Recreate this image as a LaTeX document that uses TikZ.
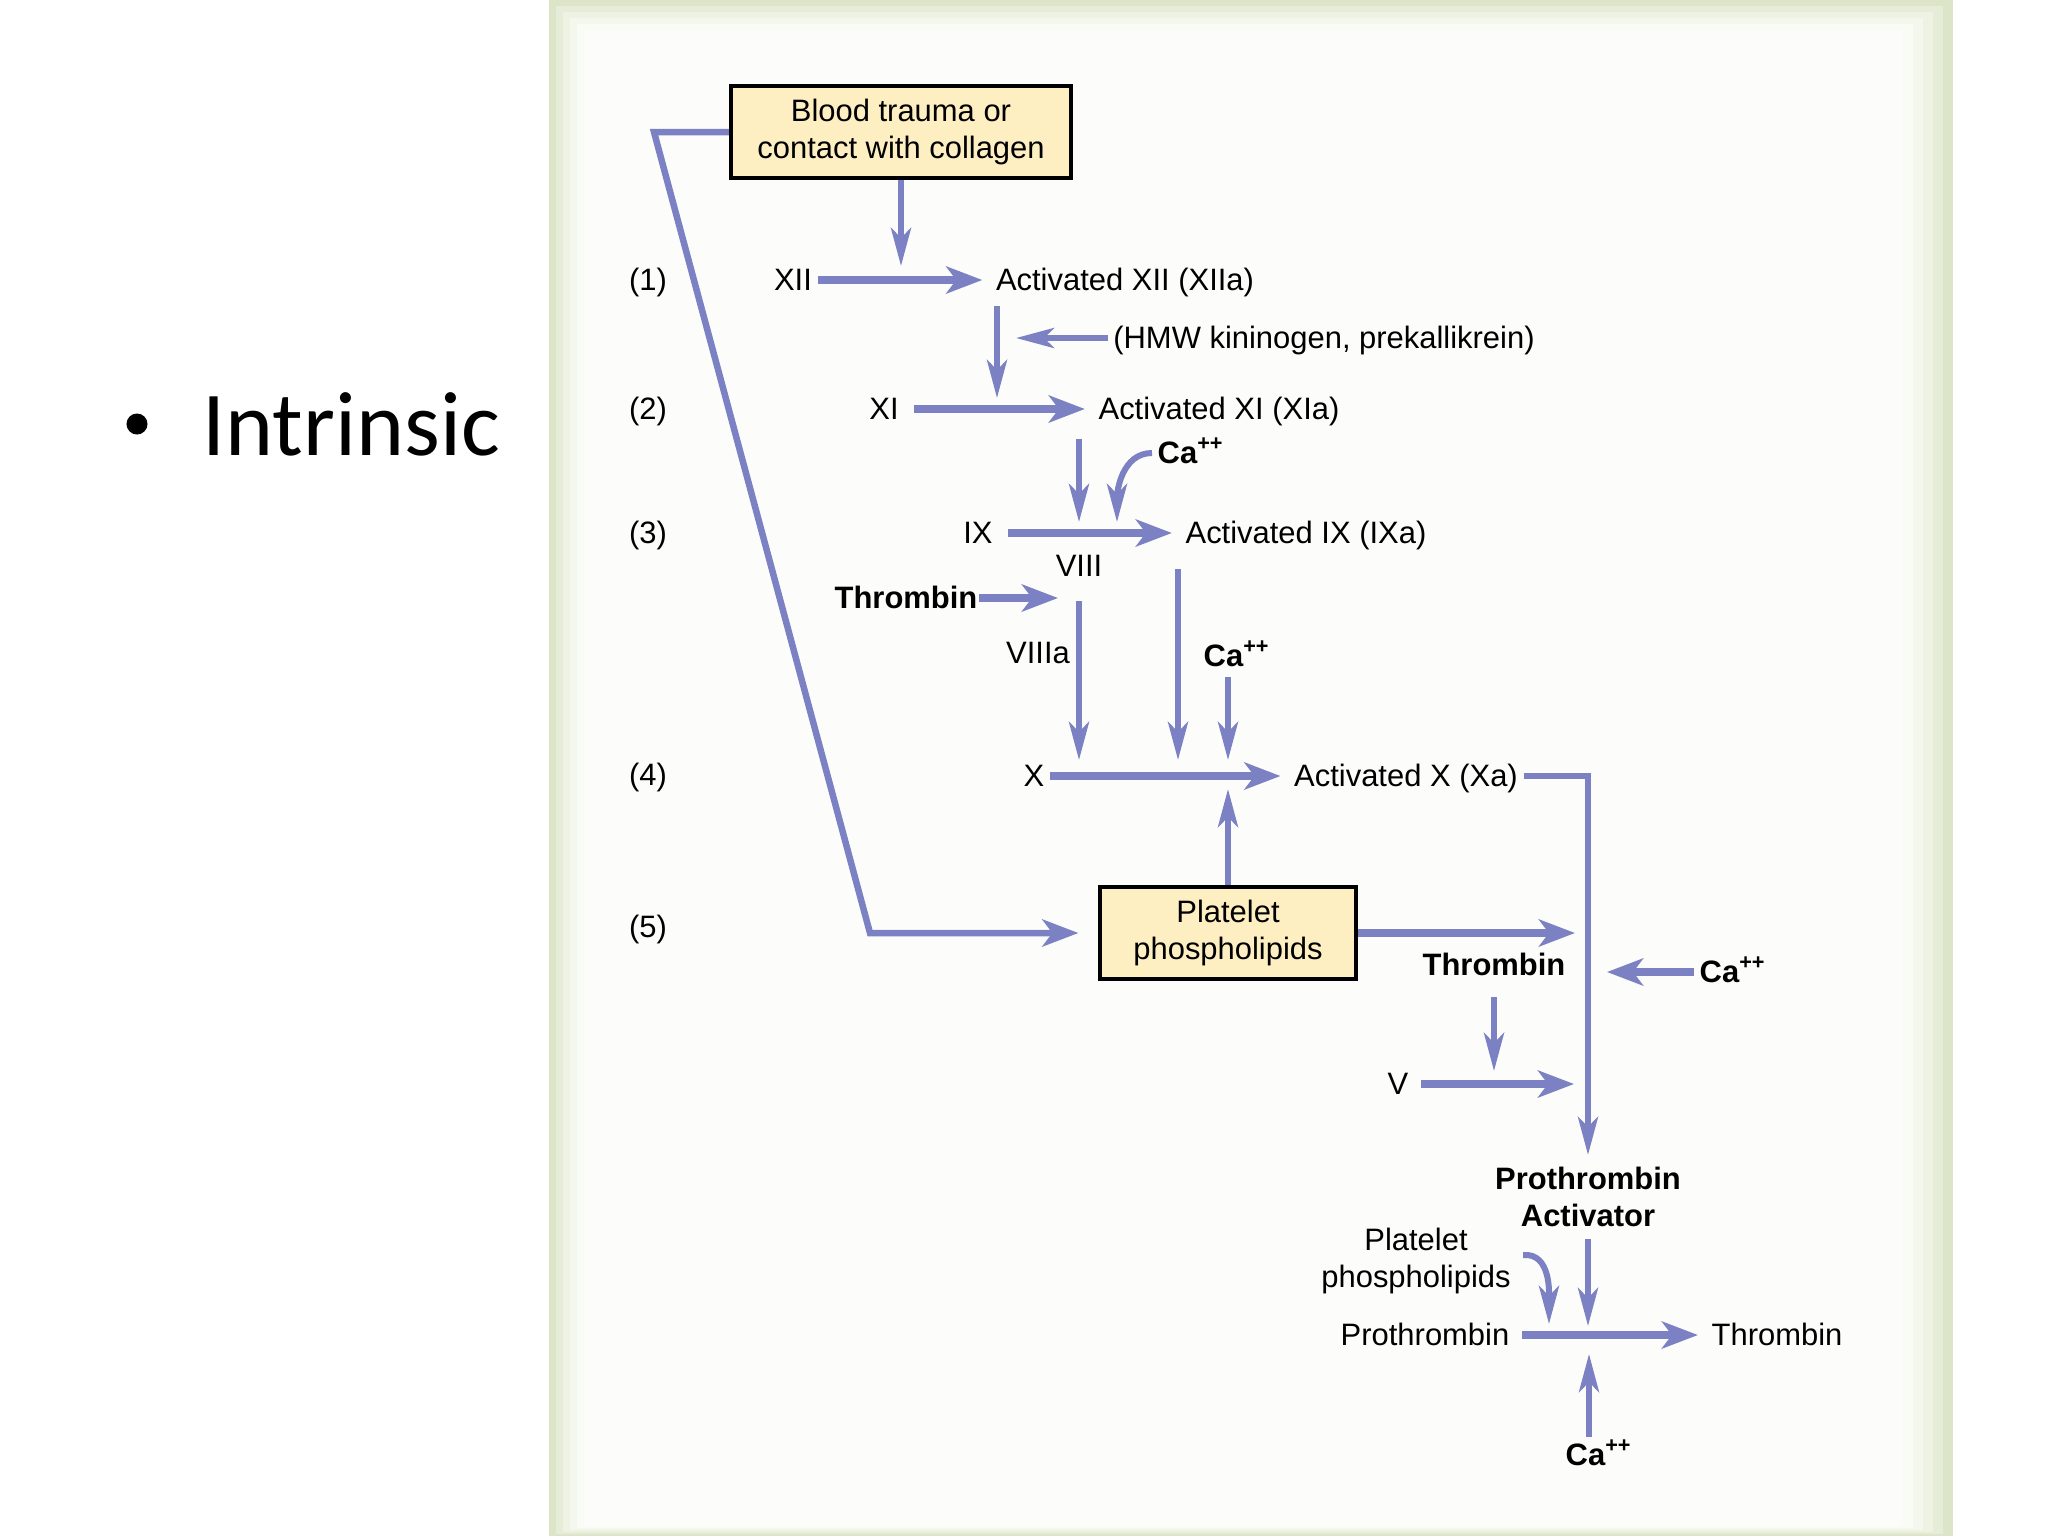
\documentclass[tikz,border=0pt]{standalone}
\usepackage{fontspec}
\setmainfont{Liberation Sans}
\newfontfamily\carlito{Carlito}
\usepackage{tikz}
\usetikzlibrary{arrows.meta, positioning, calc}
\definecolor{ArrowBlue}{RGB}{124,129,196}
\definecolor{BoxYellow}{RGB}{253,239,194}
\definecolor{PanelGreen}{RGB}{220,229,200}
\definecolor{PanelWhite}{RGB}{252,253,250}

\begin{document}
\begin{tikzpicture}[x=0.01cm, y=-0.01cm,
	font=\fontsize{8.8}{10.4}\selectfont,
	caja/.style={rectangle, draw=black, line width=0.04cm, fill=BoxYellow,
		align=center, inner sep=2pt},
	lbl/.style={inner sep=0.05cm, text height=0.24cm, text depth=0.03cm},
	neg/.style={lbl, font=\fontsize{8.8}{10.4}\selectfont\bfseries},
	fl/.style={-{Stealth[length=0.36cm, width=0.27cm, inset=0.1cm]},
		line width=0.085cm, ArrowBlue, shorten >=0.08cm},
	fd/.style={-{Stealth[length=0.38cm, width=0.2cm, inset=0.1cm]},
		line width=0.06cm, ArrowBlue}]

	\useasboundingbox (0,0) rectangle (2048,1536);
	\fill[white] (0,0) rectangle (2048,1536);
	% panel with faded green rim
	\foreach \i/\p in {0/100, 1/70, 2/45, 3/25, 4/10, 5/0}
		\fill[PanelGreen!\p!PanelWhite] (549+7*\i, 6*\i) rectangle (1953-10*\i, 1536-2*\i);

	% slide bullet
	\node[circle, fill=black, inner sep=0pt, minimum size=0.21cm] (bul) at (137,424) {};
	\node[anchor=base west, inner sep=0pt, font=\carlito\fontsize{26}{30}\selectfont]
		(intr) at (202,455) {Intrinsic};

	\node[caja, minimum width=3.4cm, minimum height=0.92cm] (trauma) at (901,132)
		{Blood trauma or\\contact with collagen};

	\foreach \n/\y in {1/280, 2/409, 3/533, 4/775, 5/927}
		\node[lbl] (r\n) at (648,\y) {(\n)};

	\node[lbl] (xii) at (793,280) {XII};
	\node[lbl] (axii) at (1125,280) {Activated XII (XIIa)};
	\node[lbl] (hmw) at (1324,338) {(HMW kininogen, prekallikrein)};
	\node[lbl] (xi) at (884,409) {XI};
	\node[lbl] (axi) at (1219,409) {Activated XI (XIa)};
	\node[neg] (ca1) at (1191,453) {Ca\textsuperscript{++}};
	\node[lbl] (ix) at (978,533) {IX};
	\node[lbl] (aix) at (1306,533) {Activated IX (IXa)};
	\node[lbl] (viii) at (1079,566) {VIII};
	\node[neg] (thr1) at (906,598) {Thrombin};
	\node[lbl] (viiia) at (1038,653) {VIIIa};
	\node[neg] (ca2) at (1237,656) {Ca\textsuperscript{++}};
	\node[lbl] (x) at (1034,776) {X};
	\node[lbl] (ax) at (1406,776) {Activated X (Xa)};
	\node[caja, minimum width=2.55cm, minimum height=0.91cm] (plat) at (1228,933)
		{Platelet\\phospholipids};
	\node[neg] (thr2) at (1494,965) {Thrombin};
	\node[neg] (ca3) at (1733,972) {Ca\textsuperscript{++}};
	\node[lbl] (v) at (1398,1084) {V};
	\node[align=center, font=\fontsize{8.8}{10.4}\selectfont\bfseries] (pact)
		at (1588,1197) {Prothrombin\\Activator};
	\node[align=center] (plat2) at (1416,1261) {Platelet\\phospholipids};
	\node[lbl] (proth) at (1425,1335) {Prothrombin};
	\node[lbl] (thr3) at (1777,1335) {Thrombin};
	\node[neg] (ca4) at (1599,1455) {Ca\textsuperscript{++}};

	% junction points on the arrows
	\coordinate (j1) at (901,266);
	\coordinate (j2) at (1016,338);
	\coordinate (j3) at (1117,522);
	\coordinate (j4) at (1079,760);
	\coordinate (j5) at (1228,789);
	\coordinate (j6) at (1494,1071);
	\coordinate (j7) at (1588,1326);
	\coordinate (j8) at (1549,1324);

	% step 1 and 2
	\draw[fd] (trauma) -- (j1);
	\draw[fl] (xii) -- (axii);
	\draw[fd] (997,306) -- (997,398);
	\draw[fd] (hmw) -- (j2);
	\draw[fl, shorten <=0.1cm] (xi) -- (axi);

	% step 3
	\draw[fd] (1079,439) -- (1079,522);
	\draw[fd] (ca1.west) to[out=180, in=90] (j3);
	\draw[fl, shorten <=0.1cm] (ix) -- (aix);
	\draw[fl, shorten >=0pt, shorten <=-0.04cm] (thr1) -- (1058,598);

	% step 4
	\draw[fd, shorten <=0.16cm] (viii.south) -- (j4);
	\draw[fd] (1178,569) -- (1178,760);
	\draw[fd] (1228,677) -- (1228,760);
	\draw[fl] (x) -- (ax);
	\draw[fd] (ax.east) -| (pact.north);

	% step 5
	\draw[fl, line width=0.065cm, shorten >=0.2cm]
		(trauma.west) -- (654,132) -- (870,933) -- (plat.west);
	\draw[fd] (plat.north) -- (j5);
	\draw[fl, shorten >=0pt] (plat.east) -- (1575,933);
	\draw[fd, shorten <=0.13cm] (thr2.south) -- (j6);
	\draw[fl, shorten >=0pt] (ca3) -- (1607,972);
	\draw[fl, shorten <=0.07cm, shorten >=0pt] (v) -- (1574,1084);

	% prothrombin to thrombin
	\draw[fd] (pact.south) -- (j7);
	\draw[fd] ([yshift=0.06cm]plat2.east) to[out=5, in=90] (j8);
	\draw[fl, shorten <=0.07cm] (proth) -- (thr3);
	\draw[fd] (1589,1437) -- (1589,1354);
\end{tikzpicture}
\end{document}
